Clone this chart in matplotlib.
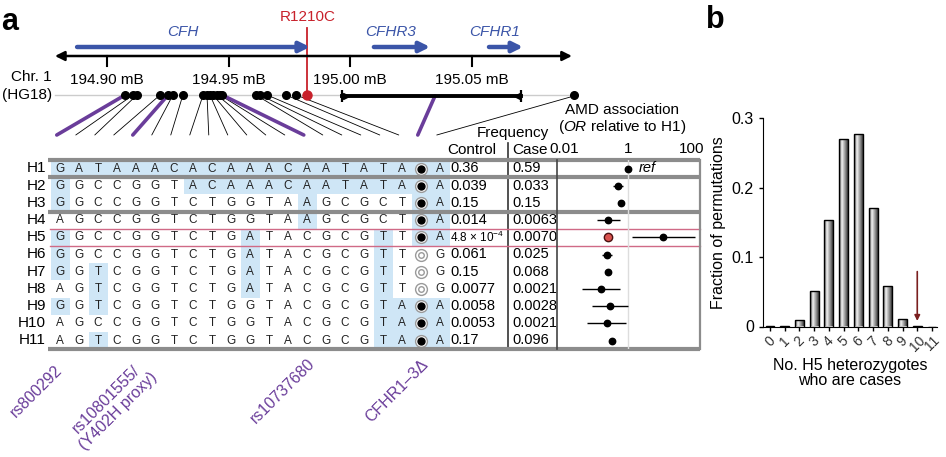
import numpy as np
import matplotlib.pyplot as plt
from matplotlib.patches import ConnectionPatch, Rectangle
from matplotlib.colors import LinearSegmentedColormap

plt.rcParams['font.family'] = ['Liberation Sans', 'DejaVu Sans']
plt.rcParams['mathtext.fontset'] = 'custom'
plt.rcParams['mathtext.rm'] = 'Liberation Sans'
plt.rcParams['mathtext.it'] = 'Liberation Sans:italic'

# ---------------- data ----------------
# chromosome track (Mb, HG18)
axis_ticks = [194.90, 194.95, 195.00, 195.05]
axis_span = (194.8786, 195.0911)
genes = ['CFH', 'CFHR3', 'CFHR1']
gene_start = [194.8877, 195.0097, 195.0570]
gene_end = [194.9834, 195.0328, 195.0710]
r1210c_mb = 194.9824
deletion_span = (194.9966, 195.0702)
# marker position of each haplotype column (19 SNPs, deletion, last SNP)
col_mb = [194.9074, 194.9107, 194.9123, 194.9218, 194.9251, 194.9271, 194.9312,
          194.9395, 194.9411, 194.9423, 194.9436, 194.9452, 194.9464, 194.9473,
          194.9612, 194.9629, 194.9658, 194.9736, 194.9777, 195.0348, 195.0919]
purple_cols = [0, 4, 13, 19]
purple_labels = ['rs800292', 'rs10801555/\n(Y402H proxy)', 'rs10737680', 'CFHR1–3Δ']

haps = ['H1', 'H2', 'H3', 'H4', 'H5', 'H6', 'H7', 'H8', 'H9', 'H10', 'H11']
alleles = ['GATAAACACAAACAATATA',
           'GGCCGGTACAAACAATATA',
           'GGCCGGTCTGGTAAGCGCT',
           'AGCCGGTCTGGTAAGCGCT',
           'GGCCGGTCTGATACGCGTT',
           'GGCCGGTCTGATACGCGTT',
           'GGTCGGTCTGATACGCGTT',
           'AGTCGGTCTGATACGCGTT',
           'GGTCGGTCTGGTACGCGTA',
           'AGCCGGTCTGGTACGCGTA',
           'AGTCGGTCTGGTACGCGTA']
deleted = ['F', 'F', 'F', 'F', 'F', 'O', 'O', 'O', 'F', 'F', 'F']   # F filled, O open
last_allele = ['A', 'A', 'A', 'A', 'A', 'G', 'G', 'G', 'A', 'A', 'A']

control_freq = ['0.36', '0.039', '0.15', '0.014', '4.8 × 10$^{\\mathregular{-4}}$',
                '0.061', '0.15', '0.0077', '0.0058', '0.0053', '0.17']
case_freq = ['0.59', '0.033', '0.15', '0.0063', '0.0070', '0.025', '0.068',
             '0.0021', '0.0028', '0.0021', '0.096']

odds = [1.0, 0.49, 0.60, 0.23, 12.6, 0.22, 0.23, 0.14, 0.27, 0.22, 0.32]
ci_lo = [np.nan, 0.34, 0.55, 0.105, 1.35, 0.15, 0.20, 0.035, 0.074, 0.051, 0.29]
ci_hi = [np.nan, 0.69, 0.66, 0.56, 129.0, 0.31, 0.26, 0.56, 1.0, 0.87, 0.36]
h5_red_or = 0.23

# panel b
n_cases = np.arange(12)
fraction = [0.0005, 0.001, 0.009, 0.051, 0.153, 0.270, 0.277, 0.170, 0.058, 0.011, 0.001, 0.0]
observed = 10

# ---------------- layout ----------------
W, H = 946, 457
fig = plt.figure(figsize=(W / 100, H / 100), dpi=100)


def box(x0, y0, x1, y1):
    return [x0 / W, 1 - y1 / H, (x1 - x0) / W, (y1 - y0) / H]


blue = '#3b55a8'
red = '#c8212b'
purple = '#6a3d9a'
hl = '#cfe6f6'
PXMB = 2433.0

# chromosome axes: x in Mb, y in px-like units
ax_top = fig.add_axes(box(0, 0, 700, 160))
ax_top.set_xlim(194.90 - 107 / PXMB, 194.90 + 593 / PXMB)
ax_top.set_ylim(160, 0)
ax_top.axis('off')


def mb(px):
    return 194.90 + (px - 107) / PXMB


ax_top.annotate('', xy=(axis_span[1], 56), xytext=(axis_span[0], 56),
                arrowprops=dict(arrowstyle='<|-|>', color='black', lw=1.8,
                                mutation_scale=14, shrinkA=0, shrinkB=0))
for t in axis_ticks:
    ax_top.plot([t, t], [56, 66], color='black', lw=1.5)
    ax_top.text(t, 80, f'{t:.2f} mB', ha='center', va='center', fontsize=11)

for g, s, e in zip(genes, gene_start, gene_end):
    ax_top.annotate('', xy=(e, 47), xytext=(s, 47),
                    arrowprops=dict(arrowstyle='-|>', color=blue, lw=3.2,
                                    mutation_scale=15, shrinkA=0, shrinkB=0))
    ax_top.text((s + e) / 2 - 0.0045, 32, g, ha='center', va='center',
                fontsize=11, style='italic', color=blue)

ax_top.plot([axis_span[0], mb(576)], [95, 95], color='#cccccc', lw=1, zorder=0)
ax_top.plot([r1210c_mb, r1210c_mb], [28, 95], color=red, lw=1.3, zorder=2)
ax_top.plot(r1210c_mb, 95, 'o', color=red, ms=6.5, zorder=4)
ax_top.text(r1210c_mb, 17, 'R1210C', color=red, ha='center', va='center', fontsize=11)

ax_top.plot(col_mb[:19], [95] * 19, 'o', color='black', ms=5.5, zorder=4)
ax_top.plot(col_mb[20], 95, 'o', color='black', ms=5.5, zorder=4)
ax_top.plot(deletion_span, [96, 96], color='black', lw=2.8, zorder=3)
ax_top.plot(deletion_span, [96, 96], ls='none', marker='|', ms=9, mew=1.6, color='black', zorder=3)
ax_top.plot(deletion_span[0] + 0.0015, 96, marker='>', ms=5, color='black', zorder=3)
ax_top.plot(deletion_span[1] - 0.0015, 96, marker='<', ms=5, color='black', zorder=3)

ax_top.text(mb(52), 77, 'Chr. 1', ha='right', va='center', fontsize=11)
ax_top.text(mb(52), 95, '(HG18)', ha='right', va='center', fontsize=11)

# haplotype table: x in column units, y in row units
R0, RS = 168.5, 17.2
ax_tab = fig.add_axes(box(0, 100, 705, 360))
ax_tab.set_xlim(-60 / 19, 645 / 19)
ax_tab.set_ylim((360 - R0) / RS, (100 - R0) / RS)
ax_tab.axis('off')


def row(px):
    return (px - R0) / RS


def col(px):
    return (px - 60) / 19


ref_row = list(alleles[0]) + [deleted[0], last_allele[0]]
for r, hap in enumerate(haps):
    cells = list(alleles[r]) + [deleted[r], last_allele[r]]
    for c, a in enumerate(cells):
        if a == ref_row[c]:
            ax_tab.add_patch(Rectangle((c - 0.5, r - 0.5), 1, 1, facecolor=hl,
                                       edgecolor='none', zorder=0))
        if c == 19:
            ax_tab.plot(c, r, 'o', ms=8.5, mfc='white', mec='#9a9a9a', mew=1, zorder=2)
            if a == 'F':
                ax_tab.plot(c, r, 'o', ms=5, color='black', zorder=3)
            else:
                ax_tab.plot(c, r, 'o', ms=4, mfc='white', mec='#9a9a9a', mew=1, zorder=3)
        else:
            ax_tab.text(c, r, a, ha='center', va='center', fontsize=8.5, color='#222222')
    ax_tab.text(col(46), r, hap, ha='right', va='center', fontsize=11)
    ax_tab.text(col(450), r, control_freq[r], ha='left', va='center',
                fontsize=8.5 if r == 4 else 10.5)
    ax_tab.text(col(512), r, case_freq[r], ha='left', va='center', fontsize=10.5)

for y in [-0.5, 0.5, 2.5, 10.5]:
    ax_tab.plot([col(48), col(700)], [y, y], color='#8c8c8c', lw=3, zorder=5,
                solid_capstyle='butt')
for y in [3.5, 4.5]:
    ax_tab.plot([col(50), col(700)], [y, y], color='#d06a86', lw=1, zorder=5)
ax_tab.plot([col(508), col(508)], [row(143), 10.5], color='#333333', lw=1.2)

ax_tab.text(col(447), row(150), 'Control', ha='left', va='center', fontsize=11)
ax_tab.text(col(512), row(150), 'Case', ha='left', va='center', fontsize=11)
ax_tab.text(col(513), row(133), 'Frequency', ha='center', va='center', fontsize=11)
ax_tab.text(col(622), row(110), 'AMD association', ha='center', va='center', fontsize=11)
ax_tab.text(col(622), row(127), '($\\mathit{OR}$ relative to H1)', ha='center',
            va='center', fontsize=11)

for c, lab in zip(purple_cols, purple_labels):
    yc = row(405) if '\n' in lab else row(391)
    ax_tab.text(c - 24 / 19, yc, lab, rotation=45, rotation_mode='anchor',
                ha='center', va='center', multialignment='center',
                fontsize=11.5, color=purple, linespacing=1.1)

# connector lines from chromosome markers to table columns
for c, m in enumerate(col_mb):
    is_p = c in purple_cols
    y0 = 96 if c >= 19 else 95
    con = ConnectionPatch(xyA=(m, y0), coordsA=ax_top.transData,
                          xyB=(c - 0.17, row(135)), coordsB=ax_tab.transData,
                          color=purple if is_p else 'black',
                          lw=2.6 if is_p else 0.6, zorder=1)
    ax_top.add_artist(con)

# forest plot
ax_for = fig.add_axes(box(557, 160, 700, 349))
ax_for.set_xscale('log')
ax_for.set_xlim(10 ** -2.236, 10 ** 2.268)
ax_for.set_ylim(row(349), row(160))
ax_for.set_facecolor('none')
for s in ['top', 'bottom']:
    ax_for.spines[s].set_visible(False)
ax_for.spines['left'].set_color('#444444')
ax_for.spines['left'].set_linewidth(1.2)
ax_for.spines['right'].set_color('#8c8c8c')
ax_for.spines['right'].set_linewidth(1.6)
ax_for.xaxis.tick_top()
ax_for.set_xticks([0.01, 1, 100])
ax_for.set_xticklabels(['0.01', '1', '100'])
ax_for.xaxis.set_minor_locator(plt.NullLocator())
ax_for.tick_params(axis='x', length=0, pad=3, labelsize=11)
ax_for.set_yticks([])
ax_for.axvline(1, color='#dddddd', lw=1, zorder=0)
yr = np.arange(len(haps))
ax_for.hlines(yr, ci_lo, ci_hi, color='black', lw=1)
ax_for.plot(odds, yr, 'o', color='black', ms=4.6, ls='none', zorder=3)
ax_for.plot(h5_red_or, 4, 'o', mfc='#d9534f', mec='#4a1010', mew=1, ms=6, zorder=3)
ax_for.text(2.2, 0, 'ref', style='italic', va='center', ha='left', fontsize=10.5)

fig.text(10 / W, 1 - 22 / H, 'a', fontsize=22, fontweight='bold', ha='center', va='center')
fig.text(715 / W, 1 - 20 / H, 'b', fontsize=22, fontweight='bold', ha='center', va='center')

# ---------------- panel b ----------------
axb = fig.add_axes(box(763, 118, 937, 326.5))
bars = axb.bar(n_cases, fraction, width=0.6, color='none', edgecolor='black', lw=1, zorder=3)
cmap = LinearSegmentedColormap.from_list('cyl', ['#4a4a4a', '#f4f4f4', '#9a9a9a', '#3c3c3c'])
grad = np.linspace(0, 1, 64).reshape(1, -1)
for b, x, h in zip(bars, n_cases, fraction):
    if h <= 0:
        continue
    im = axb.imshow(grad, extent=[x - 0.3, x + 0.3, 0, h], aspect='auto',
                    cmap=cmap, zorder=2, interpolation='bilinear')
    im.set_clip_path(b)
axb.set_xlim(-0.475, 11.34)
axb.set_ylim(0, 0.3)
axb.spines['top'].set_visible(False)
axb.spines['right'].set_visible(False)
axb.set_xticks(n_cases)
axb.set_xticklabels([str(i) for i in n_cases], rotation=45, ha='center', fontsize=10,
                    color='#333333')
axb.set_yticks([0, 0.1, 0.2, 0.3])
axb.set_yticklabels(['0', '0.1', '0.2', '0.3'], fontsize=11.5)
axb.tick_params(length=3, width=1)
axb.tick_params(axis='x', pad=2)
axb.annotate('', xy=(observed, 0.008), xytext=(observed, 0.079),
             arrowprops=dict(arrowstyle='-|>', color='#7a1f1f', lw=1.2,
                             mutation_scale=8, shrinkA=0, shrinkB=0))
axb.set_ylabel('Fraction of permutations', fontsize=11.5)
axb.yaxis.set_label_coords(-0.215, 0.5)
axb.set_xlabel('No. H5 heterozygotes\nwho are cases', fontsize=11.5, linespacing=1.05)
axb.xaxis.set_label_coords(0.5, -0.15)

fig.savefig('out.png', dpi=100)
